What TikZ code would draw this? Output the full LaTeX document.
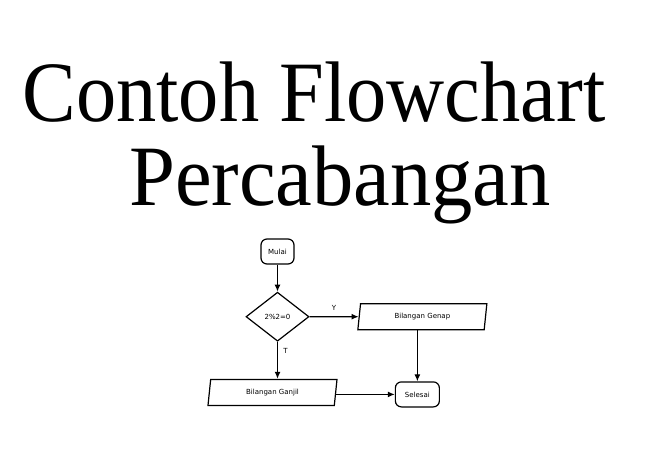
\documentclass[tikz,border=0pt]{standalone}
\usepackage{fontspec}
\setmainfont{Liberation Serif}
\newfontfamily\chartfont{DejaVu Sans}
\usetikzlibrary{arrows, arrows.meta, shapes.geometric, positioning}
\tikzstyle{line} = [draw, -latex']

\begin{document}
\begin{tikzpicture}[
            x = 1pt, y = -1pt, % pixel-like units, y downwards
            > = {Latex[length=7pt, width=6pt]}, % arrow head style
            very thick, % line style
            font = \chartfont\fontsize{7}{8}\selectfont
        ]

        \tikzstyle{terminal}=[
            draw = black,
            very thick,
            rounded corners = 6pt,
            minimum width = 33pt,
            minimum height = 25pt,
            inner sep = 1pt
        ]
        \tikzstyle{decision}=[
            draw = black,
            very thick,
            diamond,
            aspect = 1.3,
            minimum width = 63pt,
            minimum height = 49pt,
            inner sep = 0pt
        ]
        \tikzstyle{io}=[
            draw = black,
            very thick,
            trapezium,
            trapezium left angle = 73,
            trapezium right angle = 107,
            trapezium stretches body,
            minimum width = 129pt,
            minimum height = 26pt,
            inner sep = 1pt
        ]

        \useasboundingbox (0,0) rectangle (650,450);

        % title
        \node[anchor=base, font=\fontsize{86}{90}\selectfont] (title1) at (314,121) {\scalebox{0.935}[1]{Contoh Flowchart}};
        \node[anchor=base, font=\fontsize{86}{90}\selectfont] (title2) at (340,205) {\scalebox{0.96}[1]{Percabangan}};

        % flowchart
        \node[terminal] (mulai) at (277.5,251.5) {Mulai};
        \node[decision] (cek) [below=27pt of mulai] {2\%2=0};
        \node[io] (genap) [right=49pt of cek] {Bilangan Genap};
        \node[terminal, minimum width=44pt] (selesai) [below=51pt of genap, xshift=-5pt] {Selesai};
        \node[io] (ganjil) [below=37pt of cek, xshift=-5pt] {Bilangan Ganjil};

        \draw[->] (mulai) -- (cek);
        \draw[->] (cek) -- node[above, pos=0.5, yshift=2pt] {Y} (genap);
        \draw[->] (cek) -- node[right, pos=0.25, xshift=2pt] {T} (cek.south |- ganjil.north);
        \draw[->] (genap.south -| selesai) -- (selesai);
        \draw[->] (ganjil.east |- selesai) -- (selesai);

    \end{tikzpicture}
\end{document}
